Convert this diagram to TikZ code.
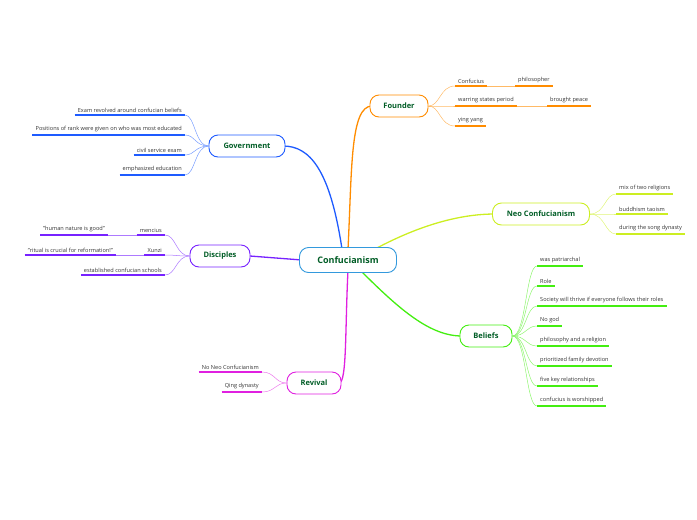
\documentclass[tikz,border=0pt]{standalone}
\usepackage{fontspec}
\setmainfont{Open Sans}
\begin{document}
\begin{tikzpicture}[x=1pt,y=-1pt,
  tc/.style={text=green!25!black!85!cyan},
  main/.style={draw=#1,line width=0.9pt,rounded corners=9pt,fill=white,font=\bfseries\fontsize{7.5}{8}\selectfont,tc,minimum height=22pt,inner xsep=6pt},
  leaf/.style={font=\fontsize{5.6}{6}\selectfont,text=black!80,inner xsep=3pt,inner ysep=2.5pt},
  ul/.style={draw=#1,line width=1.1pt},
  br/.style={draw=#1,line width=1.3pt},
  tw/.style={draw=#1!60,line width=0.5pt}]
\useasboundingbox (0,0) rectangle (697,520);
\colorlet{cor}{orange!90!yellow}
\definecolor{cbl}{HTML}{1E5BFF}
\definecolor{cpu}{HTML}{7722FF}
\definecolor{cye}{HTML}{CCEE22}
\definecolor{cgr}{HTML}{44EE11}
\definecolor{cma}{HTML}{E020E0}
\definecolor{cce}{HTML}{3399DD}
% branches
\coordinate (ct) at (348,249);
\draw[br=cor] (348,249) .. controls (352,170) and (350,106) .. (372,106);
\draw[br=cbl] (342,249) .. controls (330,170) and (310,146) .. (283,146);
\draw[br=cpu] (302,260) -- (250,256);
\draw[br=cye] (375,249) .. controls (420,225) and (460,214) .. (495,214);
\draw[br=cgr] (360,270) .. controls (400,310) and (430,336) .. (462,336);
\draw[br=cma] (348,270) .. controls (345,330) and (347,383) .. (339,383);
\node[main=cce,font=\bfseries\fontsize{9}{10}\selectfont,minimum width=97pt,minimum height=25pt] (c) at (348,260) {Confucianism};
\node[main=cor,minimum width=58pt] (f) at (399,106) {Founder};
\node[main=cbl,minimum width=76pt] (g) at (247,146) {Government};
\node[main=cpu,minimum width=60pt] (d) at (220,256) {Disciples};
\node[main=cye,minimum width=97pt] (n) at (541,214) {Neo Confucianism};
\node[main=cgr,minimum width=52pt] (b) at (486,336) {Beliefs};
\node[main=cma,minimum width=54pt] (r) at (314,383) {Revival};
% Founder
\foreach \n/\y/\t in {f1/86/Confucius,f2/106/warring states period,f3/126/ying yang}{
  \node[leaf,anchor=south west] (\n) at (455,\y) {\t};
  \draw[ul=cor] (\n.south west) -- (\n.south east);
  \draw[tw=cor] (f.east) .. controls (440,106) and (440,\y) .. (\n.south west);}
\node[leaf,anchor=south west] (f4) at (515,86) {philosopher};
\draw[ul=cor] (f4.south west) -- (f4.south east);
\draw[tw=cor] (f1.south east) -- (f4.south west);
\node[leaf,anchor=south west] (f5) at (547,106) {brought peace};
\draw[ul=cor] (f5.south west) -- (f5.south east);
\draw[tw=cor] (f2.south east) -- (f5.south west);
% Government
\foreach \n/\y/\t in {g1/115/Exam revolved around confucian beliefs,g2/135/Positions of rank were given on who was most educated,g3/155/civil service exam,g4/175/emphasized education}{
  \node[leaf,anchor=south east] (\n) at (185,\y) {\t};
  \draw[ul=cbl] (\n.south west) -- (\n.south east);
  \draw[tw=cbl] (g.west) .. controls (195,146) and (195,\y) .. (\n.south east);}
% Disciples
\foreach \n/\y/\t in {d1/235/mencius,d2/255/Xunzi,d3/275/established confucian schools}{
  \node[leaf,anchor=south east] (\n) at (165,\y) {\t};
  \draw[ul=cpu] (\n.south west) -- (\n.south east);
  \draw[tw=cpu] (d.west) .. controls (176,256) and (176,\y) .. (\n.south east);}
\node[leaf,anchor=south east] (d4) at (108,235) {"human nature is good"};
\draw[ul=cpu] (d4.south west) -- (d4.south east);
\draw[tw=cpu] (d4.south east) -- (d1.south west);
\node[leaf,anchor=south east] (d5) at (116,255) {"ritual is crucial for reformation!"};
\draw[ul=cpu] (d5.south west) -- (d5.south east);
\draw[tw=cpu] (d5.south east) -- (d2.south west);
% Neo
\foreach \n/\y/\t in {n1/194/mix of two religions,n2/214/buddhism taoism,n3/234/during the song dynasty}{
  \node[leaf,anchor=south west] (\n) at (616,\y) {\t};
  \draw[ul=cye] (\n.south west) -- (\n.south east);
  \draw[tw=cye] (n.east) .. controls (605,214) and (605,\y) .. (\n.south west);}
% Beliefs
\foreach \n/\y/\t in {b1/266/was patriarchal,b2/286/Role/ duty,b3/306/Society will thrive if everyone follows their roles,b4/326/No god,b5/346/philosophy and a religion,b6/366/prioritized family devotion,b7/386/five key relationships,b8/406/confucius is worshipped}{
  \node[leaf,anchor=south west] (\n) at (537,\y) {\t};
  \draw[ul=cgr] (\n.south west) -- (\n.south east);
  \draw[tw=cgr] (b.east) .. controls (526,336) and (526,\y) .. (\n.south west);}
% Revival
\foreach \n/\y/\t in {r1/372/No Neo Confucianism,r2/392/Qing dynasty}{
  \node[leaf,anchor=south east] (\n) at (262,\y) {\t};
  \draw[ul=cma] (\n.south west) -- (\n.south east);
  \draw[tw=cma] (r.west) .. controls (275,383) and (275,\y) .. (\n.south east);}
\end{tikzpicture}
\end{document}
